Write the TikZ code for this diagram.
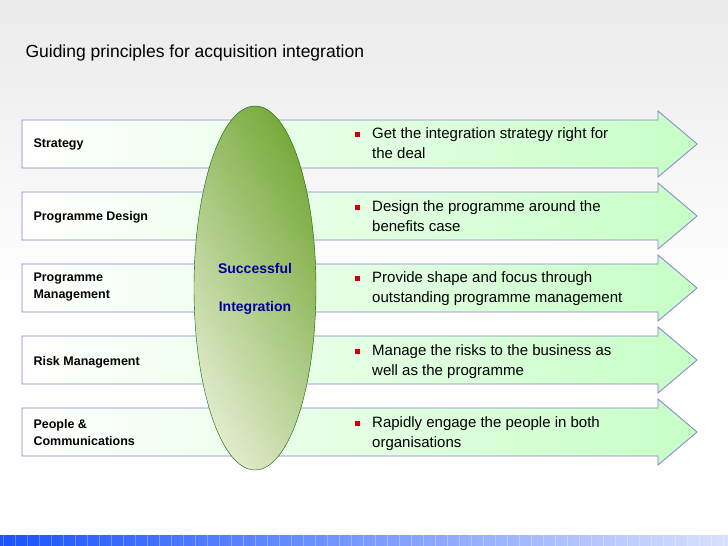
\documentclass[tikz,border=0pt]{standalone}
\usepackage{fontspec}
\setmainfont{Liberation Sans}
\begin{document}
\begin{tikzpicture}[x=1pt,y=-1pt,
  lab/.style={anchor=west,font=\bfseries\fontsize{12.5}{17}\selectfont,align=left},
  btxt/.style={anchor=north west,font=\fontsize{15}{20}\selectfont,align=left,inner sep=0pt},
  bul/.style={fill=red!80!black,minimum size=5pt,inner sep=0pt}]
\definecolor{olive1}{RGB}{120,170,60}
\definecolor{olive2}{RGB}{225,235,205}
\useasboundingbox (0,0) rectangle (728,546);
\shade[top color=black!8,bottom color=white] (0,0) rectangle (728,300);
\fill[white] (0,300) rectangle (728,535);
\shade[left color=blue!75!cyan!90,right color=cyan!20!blue!15] (0,535) rectangle (728,546);
\foreach \i in {0,...,60} {\draw[white,opacity=0.3,line width=0.4pt] ({\i*12+3},535) -- ({\i*12+3},546);}
\node[anchor=west,font=\fontsize{17.5}{20}\selectfont] (title) at (22,53) {Guiding principles for acquisition integration};
\foreach \y/\n in {120/a,192/b,264/c,336/d,408/e}{
  \shade[left color=white,right color=green!22,draw=blue!40!gray!70,line width=0.8pt]
    (22,\y) -- (658,\y) -- (658,\y-9) -- (697,\y+24) -- (658,\y+57) -- (658,\y+48) -- (22,\y+48) -- cycle;
}
\shade[left color=olive2,right color=olive1,shading angle=120,draw=green!40!black] (255,288) ellipse [x radius=61,y radius=182];
\node[lab] (l1) at (30,144) {Strategy};
\node[lab] (l2) at (30,217) {Programme Design};
\node[lab] (l3) at (30,287) {Programme\\Management};
\node[lab] (l4) at (30,362) {Risk Management};
\node[lab] (l5) at (30,433) {People \&\\Communications};
\node[font=\bfseries\fontsize{14}{20}\selectfont,text=blue!60!black,align=center] (si) at (255,289) {Successful\\[18pt]Integration};
\foreach \y/\t [count=\k] in {127/{Get the integration strategy right for\\the deal},
  200/{Design the programme around the\\benefits case},
  271/{Provide shape and focus through\\outstanding programme management},
  344/{Manage the risks to the business as\\well as the programme},
  416/{Rapidly engage the people in both\\organisations}}{
  \node[bul] (b\k) at (357,\y+7) {};
  \node[btxt] (t\k) at (372,\y) {\t};
}
\end{tikzpicture}
\end{document}
